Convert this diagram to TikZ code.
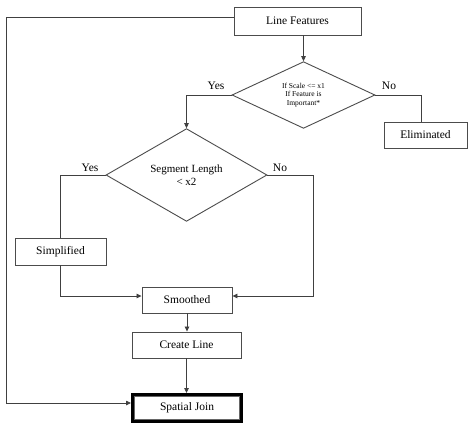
\documentclass[tikz,border=0pt]{standalone}
\usepackage{fontspec}
\setmainfont{Liberation Serif}
\usetikzlibrary{shapes.geometric,arrows.meta}
\begin{document}
\begin{tikzpicture}[x=1pt,y=-1pt,
 box/.style={draw=black!70, line width=0.9pt, rectangle, inner sep=0pt, font=\fontsize{11.5}{13}\selectfont, fill=white},
 dia/.style={draw=black!70, line width=0.9pt, diamond, inner sep=0pt, align=center},
 conn/.style={draw=black!75, line width=0.8pt},
 arr/.style={conn, -{Triangle[length=5pt,width=4.5pt]}},
 lbl/.style={font=\fontsize{11.5}{13}\selectfont, inner sep=0pt}]
\useasboundingbox (0,0) rectangle (474,432);
\fill[white] (0,0) rectangle (474,432);

\node[box, minimum width=127pt, minimum height=28pt] (LF) at (297.5,21) {Line Features};
\node[dia, minimum width=143pt, minimum height=54pt, font=\fontsize{7.5}{8.5}\selectfont] (D1) at (303.5,95) {If Scale <= x1\\If Feature is\\Important*};
\node[dia, minimum width=161pt, minimum height=54pt, font=\fontsize{11}{12.7}\selectfont] (D2) at (186.5,175) {Segment Length\\< x2};
\node[box, minimum width=83pt, minimum height=26pt] (EL) at (425.5,135) {Eliminated};
\node[box, minimum width=91pt, minimum height=27pt] (SI) at (60.5,251.5) {Simplified};
\node[box, minimum width=90pt, minimum height=26pt] (SM) at (187,300) {Smoothed};
\node[box, minimum width=109pt, minimum height=26pt] (CL) at (186.5,345) {Create Line};
\node[box, draw=black, line width=3pt, minimum width=109pt, minimum height=27pt] (SJ) at (187,408) {Spatial Join};
\draw[black!60, line width=0.8pt] ([shift={(3.5pt,-3.5pt)}]SJ.north west) rectangle ([shift={(-3.5pt,3.5pt)}]SJ.south east);

\node[lbl] (y1) at (216,86) {Yes};
\node[lbl] (n1) at (389,86) {No};
\node[lbl] (y2) at (90,168) {Yes};
\node[lbl] (n2) at (280,168) {No};

\coordinate (L1) at (6.5,17);
\coordinate (L2) at (6.5,403);
\coordinate (R2) at (313,296);

\draw[arr] (LF.south -| D1.north) -- (D1.north);
\draw[arr] ([yshift=4pt]LF.west) -- (L1) -- (L2) -- (L2 -| SJ.west);
\draw[arr] (D1.west) -| (D2.north);
\draw[conn] (D1.east) -| ([xshift=-4.5pt]EL.north);
\draw[conn] (D2.west) -| (SI.north);
\draw[arr] (D2.east) -| (R2) -- ([yshift=4pt]SM.east);
\draw[arr] (SI.south) |- ([yshift=4pt]SM.west);
\draw[arr] (SM.south) -- (SM.south |- CL.north);
\draw[arr] (CL.south) -- (CL.south |- SJ.north);
\end{tikzpicture}
\end{document}
